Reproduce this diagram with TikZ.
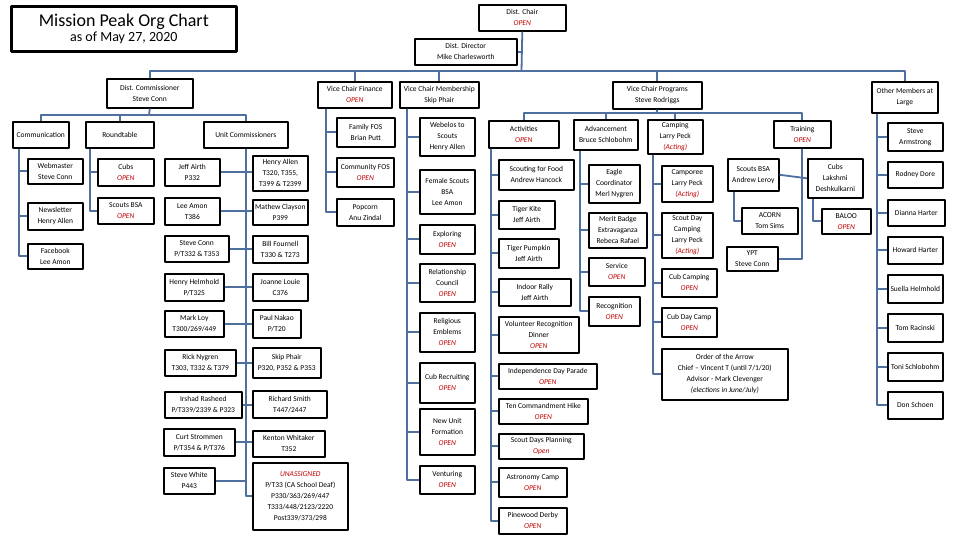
\documentclass[tikz,border=0pt]{standalone}
\usepackage{fontspec}
\setmainfont{Carlito}
\usetikzlibrary{positioning,calc}
\definecolor{mpBlue}{HTML}{4F6F9F}
\definecolor{mpRed}{HTML}{C00000}
\newcommand\mpopen{{\color{mpRed}\itshape OPEN}}
\newcommand\mpact{{\color{mpRed}\itshape (Acting)}}
\begin{document}
\begin{tikzpicture}[x=1pt,y=-1pt,line cap=round,line join=round]
\path[fill=white] (0,0) rectangle (960,540);
\tikzset{box/.style={draw=black,line width=1.6pt,fill=white,anchor=north west,align=center,inner sep=1pt,font={\fontsize{7.5}{11}\selectfont}},sz/.style 2 args={minimum width=#1pt,minimum height=#2pt},wire/.style={draw=mpBlue,line width=1.8pt,line cap=butt}}
\node[draw=black,line width=2.6pt,anchor=north west,minimum width=225pt,minimum height=45pt,align=center] (title) at (10,5) {{\fontsize{18}{20}\selectfont Mission Peak Org Chart}\\[2pt]{\fontsize{14}{16}\selectfont as of May 27, 2020}};
% top of the district
\node[box,sz={87}{26}] (chair) at (478,4) {Dist. Chair\\\mpopen};
\node[box,sz={102}{26}] (dir) at (414,38) {Dist. Director\\Mike Charlesworth};
\node[box,sz={86}{29}] (comm) at (106,78) {Dist. Commissioner\\Steve Conn};
\node[box,sz={74}{26}] (fin) at (317,81) {Vice Chair Finance\\\mpopen};
\node[box,sz={79}{26}] (memb) at (399,81) {Vice Chair Membership\\Skip Phair};
\node[box,sz={89}{27}] (prog) at (612,81) {Vice Chair Programs\\Steve Rodriggs};
\node[box,sz={66}{31}] (other) at (871,81) {Other Members at\\Large};
% commissioner side
\node[box,sz={56}{26}] (commu) at (12,121) {Communication};
\node[box,sz={68}{26}] (round) at (85,121) {Roundtable};
\node[box,sz={84}{26}] (unitc) at (203,121) {Unit Commissioners};
\node[box,sz={55}{25}] (web) at (27,158) {Webmaster\\Steve Conn};
\node[box,sz={55}{27}] (news) at (27,202) {Newsletter\\Henry Allen};
\node[box,sz={55}{25}] (fb) at (27,243) {Facebook\\Lee Amon};
\node[box,sz={56}{27}] (rtcubs) at (97,158) {Cubs\\\mpopen};
\node[box,sz={56}{26}] (rtbsa) at (97,197) {Scouts BSA\\\mpopen};
\node[box,sz={55}{27}] (jeff) at (164,158) {Jeff Airth\\P332};
\node[box,sz={55}{35}] (henry) at (252,155) {Henry Allen\\T320, T355,\\T399 \& T2399};
\node[box,sz={55}{27}] (lee) at (164,197) {Lee Amon\\T386};
\node[box,sz={55}{25}] (mathew) at (252,199) {Mathew Clayson\\P399};
\node[box,sz={64}{26}] (sconn) at (164,235) {Steve Conn\\P/T332 \& T353};
\node[box,sz={55}{27}] (bill) at (252,235) {Bill Fournell\\T330 \& T273};
\node[box,sz={59}{27}] (helm) at (164,273) {Henry Helmhold\\P/T325};
\node[box,sz={55}{27}] (joanne) at (252,273) {Joanne Louie\\C376};
\node[box,sz={59}{26}] (mark) at (164,310) {Mark Loy\\T300/269/449};
\node[box,sz={48}{28}] (paul) at (252,309) {Paul Nakao\\P/T20};
\node[box,sz={71}{26}] (rick) at (164,349) {Rick Nygren\\T303, T332 \& T379};
\node[box,sz={68}{30}] (skip) at (252,347) {Skip Phair\\P320, P352 \& P353};
\node[box,sz={77}{26}] (irshad) at (164,391) {Irshad Rasheed\\P/T339/2339 \& P323};
\node[box,sz={74}{27}] (rich) at (252,390) {Richard Smith\\T447/2447};
\node[box,sz={71}{27}] (curt) at (163,428) {Curt Strommen\\P/T354 \& P/T376};
\node[box,sz={72}{26}] (kent) at (252,430) {Kenton Whitaker\\T352};
\node[box,sz={51}{26}] (white) at (163,467) {Steve White\\P443};
\node[box,sz={95}{67}] (unas) at (252,462) {{\color{mpRed}\itshape UNASSIGNED}\\P/T33 (CA School Deaf)\\P330/363/269/447\\T333/448/2123/2220\\Post339/373/298};
% finance and membership
\node[box,sz={58}{29}] (ffos) at (336,117) {Family FOS\\Brian Putt};
\node[box,sz={57}{29}] (cfos) at (336,157) {Community FOS\\\mpopen};
\node[box,sz={57}{27}] (pop) at (336,198) {Popcorn\\Anu Zindal};
\node[box,sz={55}{38}] (webl) at (419,117) {Webelos to\\Scouts\\Henry Allen};
\node[box,sz={55}{44}] (fem) at (419,169) {Female Scouts\\BSA\\Lee Amon};
\node[box,sz={55}{29}] (expl) at (419,224) {Exploring\\\mpopen};
\node[box,sz={55}{38}] (rel) at (419,263) {Relationship\\Council\\\mpopen};
\node[box,sz={55}{39}] (relig) at (419,312) {Religious\\Emblems\\\mpopen};
\node[box,sz={55}{40}] (cubr) at (419,362) {Cub Recruiting\\\mpopen};
\node[box,sz={55}{46}] (newu) at (419,408) {New Unit\\Formation\\\mpopen};
\node[box,sz={55}{28}] (vent) at (419,465) {Venturing\\\mpopen};
% programs
\node[box,sz={70}{27}] (act) at (488,120) {Activities\\\mpopen};
\node[box,sz={64}{30}] (adv) at (573,119) {Advancement\\Bruce Schlobohm};
\node[box,sz={55}{34}] (camp) at (647,119) {Camping\\Larry Peck\\\mpact};
\node[box,sz={57}{27}] (train) at (773,120) {Training\\\mpopen};
\node[box,sz={75}{30}] (sff) at (498,159) {Scouting for Food\\Andrew Hancock};
\node[box,sz={56}{28}] (tk) at (498,200) {Tiger Kite\\Jeff Airth};
\node[box,sz={60}{29}] (tp) at (498,238) {Tiger Pumpkin\\Jeff Airth};
\node[box,sz={72}{27}] (ir) at (498,278) {Indoor Rally\\Jeff Airth};
\node[box,sz={80}{36}] (vrd) at (498,316) {Volunteer Recognition\\Dinner\\\mpopen};
\node[box,sz={98}{25}] (idp) at (498,363) {Independence Day Parade\\\mpopen};
\node[box,sz={89}{25}] (tch) at (498,398) {Ten Commandment Hike\\\mpopen};
\node[box,sz={85}{25}] (sdp) at (498,433) {Scout Days Planning\\{\color{mpRed}\itshape Open}};
\node[box,sz={68}{29}] (astr) at (498,467) {Astronomy Camp\\\mpopen};
\node[box,sz={68}{26}] (pine) at (498,507) {Pinewood Derby\\\mpopen};
\node[box,sz={51}{38}] (eagle) at (588,164) {Eagle\\Coordinator\\Merl Nygren};
\node[box,sz={58}{35}] (merit) at (588,212) {Merit Badge\\Extravaganza\\Rebeca Rafael};
\node[box,sz={56}{28}] (serv) at (588,257) {Service\\\mpopen};
\node[box,sz={51}{29}] (recog) at (588,296) {Recognition\\\mpopen};
\node[box,sz={51}{36}] (campo) at (661,165) {Camporee\\Larry Peck\\\mpact};
\node[box,sz={51}{45}] (sdc) at (661,212) {Scout Day\\Camping\\Larry Peck\\\mpact};
\node[box,sz={55}{28}] (cubc) at (661,268) {Cub Camping\\\mpopen};
\node[box,sz={55}{29}] (cubd) at (661,307) {Cub Day Camp\\\mpopen};
\node[box,sz={126}{51}] (oa) at (661,348) {Order of the Arrow\\Chief -- Vincent T (until 7/1/20)\\Advisor - Mark Clevenger\\\itshape (elections in June/July)};
\node[box,sz={51}{32}] (tbsa) at (727,158) {Scouts BSA\\Andrew Leroy};
\node[box,sz={55}{39}] (tcubs) at (807,158) {Cubs\\Lakshmi\\Deshkulkarni};
\node[box,sz={56}{26}] (acorn) at (741,207) {ACORN\\Tom Sims};
\node[box,sz={49}{25}] (baloo) at (821,208) {BALOO\\\mpopen};
\node[box,sz={51}{24}] (ypt) at (726,246) {YPT\\Steve Conn};
% members at large
\node[box,sz={55}{28}] (arm) at (887,122) {Steve\\Armstrong};
\node[box,sz={55}{26}] (rod) at (887,161) {Rodney Dore};
\node[box,sz={57}{26}] (dia) at (887,199) {Dianna Harter};
\node[box,sz={55}{27}] (how) at (887,236) {Howard Harter};
\node[box,sz={55}{28}] (sue) at (887,274) {Suella Helmhold};
\node[box,sz={55}{28}] (tom) at (887,313) {Tom Racinski};
\node[box,sz={55}{28}] (toni) at (887,352) {Toni Schlobohm};
\node[box,sz={55}{27}] (don) at (887,391) {Don Schoen};
% connectors
\coordinate (bus) at (521.5,71); \coordinate (cbus) at (149,115); \coordinate (pbus) at (656.5,113);
\draw[wire] (chair.south) -- (bus); \draw[wire] (dir.east) -- (dir.east -| bus);
\draw[wire] (comm.north) |- (bus) -| (other.north);
\draw[wire] (fin.north) -- (fin.north |- bus); \draw[wire] (memb.north) -- (memb.north |- bus); \draw[wire] (prog.north) -- (prog.north |- bus);
\draw[wire] (comm.south) -- (cbus); \draw[wire] (commu.north) |- (cbus) -| (unitc.north); \draw[wire] (round.north) -- (round.north |- cbus);
\foreach \k in {web,news,fb} \draw[wire] ([xshift=7pt]commu.south west) |- (\k.west);
\foreach \k in {rtcubs,rtbsa} \draw[wire] ([xshift=5pt]round.south west) |- (\k.west);
\draw[wire] (unitc.south) |- (unas.west);
\foreach \l/\r in {jeff/henry,lee/mathew,sconn/bill,helm/joanne,mark/paul,rick/skip,irshad/rich,curt/kent} \draw[wire] (\l.east) -- (\l.east -| \r.west);
\draw[wire] (white.east) -- (white.east -| unitc.south);
\foreach \k in {ffos,cfos,pop} \draw[wire] ([xshift=9pt]fin.south west) |- (\k.west);
\foreach \k in {webl,fem,expl,rel,relig,cubr,newu,vent} \draw[wire] ([xshift=8pt]memb.south west) |- (\k.west);
\draw[wire] (prog.south) -- (pbus); \draw[wire] (act.north) |- (pbus) -| (train.north);
\draw[wire] (adv.north) -- (adv.north |- pbus); \draw[wire] (camp.north) -- (camp.north |- pbus);
\foreach \k in {sff,tk,tp,ir,vrd,idp,tch,sdp,astr,pine} \draw[wire] ([xshift=3pt]act.south west) |- (\k.west);
\foreach \k in {eagle,merit,serv,recog} \draw[wire] ([xshift=7pt]adv.south west) |- (\k.west);
\foreach \k in {campo,sdc,cubc,cubd,oa} \draw[wire] ([xshift=6pt]camp.south west) |- (\k.west);
\draw[wire] (train.south) |- (ypt.east); \draw[wire] (tbsa.east) -- (tcubs.west);
\draw[wire] ([xshift=7pt]tbsa.south west) |- (acorn.west); \draw[wire] ([xshift=6pt]tcubs.south west) |- (baloo.west);
\foreach \k in {arm,rod,dia,how,sue,tom,toni,don} \draw[wire] ([xshift=6pt]other.south west) |- (\k.west);
\end{tikzpicture}
\end{document}
